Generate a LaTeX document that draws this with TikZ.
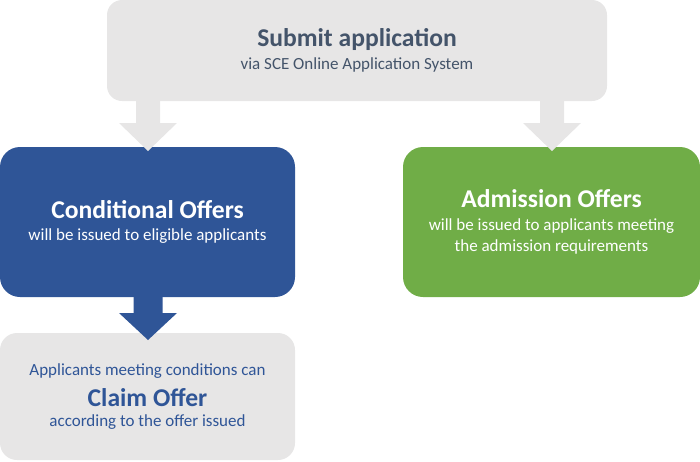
\documentclass[tikz,border=0pt]{standalone}
\usepackage{fontspec}
\setmainfont{Carlito}
\usetikzlibrary{calc}
\definecolor{boxgray}{HTML}{E7E6E6}
\definecolor{offblue}{HTML}{2F5597}
\definecolor{offgreen}{HTML}{70AD47}
\definecolor{slate}{HTML}{44546A}
\newcommand\bigtxt[1]{{\fontsize{25.6}{19}\selectfont\bfseries #1}}
\begin{document}
\begin{tikzpicture}[x=1pt,y=-1pt,
  box/.style={rectangle, inner sep=0pt, outer sep=0pt, align=center, draw=none,
    font=\fontsize{17}{19}\selectfont},
]
\useasboundingbox (0,0) rectangle (700,461);
\node[box, fill=boxgray, rounded corners=15pt, minimum width=500, minimum height=101, text=slate] (top) at (357,50.5)
  {\bigtxt{Submit application}\\[4pt]via SCE Online Application System};
\node[box, fill=offblue, rounded corners=20pt, minimum width=295, minimum height=150, text=white] (cond) at (147.5,222)
  {\bigtxt{Conditional Offers}\\[3pt]will be issued to eligible applicants};
\node[box, fill=offgreen, rounded corners=20pt, minimum width=297, minimum height=150, text=white] (adm) at (551.5,222)
  {\bigtxt{Admission Offers}\\[4pt]will be issued to applicants meeting\\[1.5pt]the admission requirements};
\node[box, fill=boxgray, rounded corners=17pt, minimum width=295, minimum height=127, text=offblue] (claim) at (147.5,396.5)
  {Applicants meeting conditions can\\[9pt]\bigtxt{Claim Offer}\\[1pt]according to the offer issued};
% arrows
\coordinate (t1) at (148,151);
\coordinate (t2) at (552,151);
\coordinate (t3) at (148,340);
\fill[boxgray] (t1) -- ++(-29,-28) -- ++(17,0) -- ($(top.south -| t1)+(-12,-2)$) -- ++(24,0) -- ($(t1)+(12,-28)$) -- ++(17,0) -- cycle;
\fill[boxgray] (t2) -- ++(-29,-28) -- ++(17,0) -- ($(top.south -| t2)+(-12,-2)$) -- ++(24,0) -- ($(t2)+(12,-28)$) -- ++(17,0) -- cycle;
\fill[offblue] (t3) -- ++(-29,-27) -- ++(14.5,0) -- ($(cond.south -| t3)+(-14.5,-2)$) -- ++(29,0) -- ($(t3)+(14.5,-27)$) -- ++(14.5,0) -- cycle;
\end{tikzpicture}
\end{document}
